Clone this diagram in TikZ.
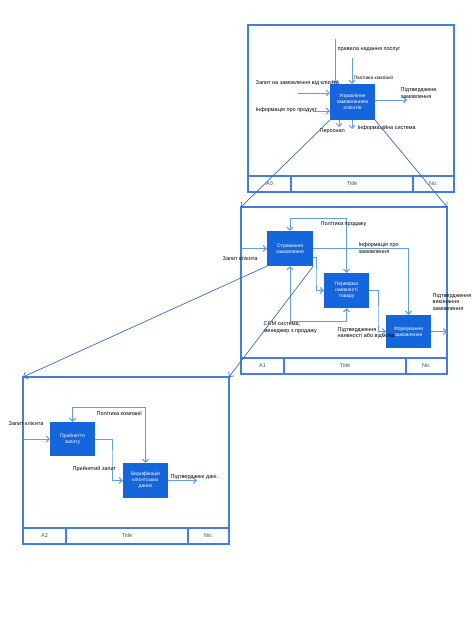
\documentclass[tikz,border=0pt]{standalone}
\usepackage{fontspec}
\setmainfont{Liberation Sans}
\usetikzlibrary{arrows.meta,calc}
\definecolor{boxblue}{RGB}{21,101,220}
\definecolor{lineblue}{RGB}{100,158,226}
\definecolor{frameblue}{RGB}{66,126,222}

\begin{document}
\begin{tikzpicture}[x=1pt,y=-1pt,
  blk/.style={fill=boxblue, text=white, align=center, font=\fontsize{5}{6}\selectfont, inner sep=0pt},
  lbl/.style={anchor=west, align=left, inner sep=0.5pt, font=\fontsize{5.5}{6.8}\selectfont},
  arr/.style={draw=lineblue, line width=1pt, -{Straight Barb[length=3pt,width=6pt]}},
  arrs/.style={arr, {Straight Barb[length=3pt,width=6pt]}-{Straight Barb[length=3pt,width=6pt]}},
  frm/.style={draw=frameblue, line width=1.1pt, minimum width=206pt, minimum height=167pt, anchor=north west, inner sep=0pt, outer sep=0pt},
  zoomln/.style={draw=frameblue!85!black, line width=0.7pt, -{Straight Barb[length=3.5pt,width=7pt]}},
  ftxt/.style={font=\fontsize{5.5}{6}\selectfont, text=black!70}]
  \useasboundingbox (0,0) rectangle (474,632);

  % frames with footer
  \foreach \n/\x/\y/\lab in {f0/248/25/A0, f1/241/207/A1, f2/23/377/A2} {
    \node[frm] (\n) at (\x,\y) {};
    \draw[draw=frameblue, line width=1.1pt] (\x,\y+151) -- (\x+206,\y+151)
      (\x+43,\y+151) -- (\x+43,\y+167) (\x+165,\y+151) -- (\x+165,\y+167);
    \node[ftxt] at (\x+21.5,\y+159) {\lab};
    \node[ftxt] at (\x+104,\y+159) {Title};
    \node[ftxt] at (\x+185.5,\y+159) {No.};
  }

  % A0
  \node[blk, minimum width=45pt, minimum height=36pt] (a0) at (352.5,102) {Управління\\замовленням\\клієнтів};
  \coordinate (p1) at (335,39);
  \coordinate (p2) at (352,58);
  \coordinate (p3) at (298,93);
  \coordinate (p4) at (313,111);
  \coordinate (p5) at (407,100);
  \coordinate (p6) at (339,127);
  \coordinate (p7) at (352,129);
  \draw[arr] (p1) -- (p1 |- a0.north);
  \draw[arr] (p2) -- (p2 |- a0.north);
  \draw[arr] (p3) -- (p3 -| a0.west);
  \draw[arr] (p4) -- (p4 -| a0.west);
  \draw[arr] (p5 -| a0.east) -- (p5);
  \draw[arr] (p6 |- a0.south) -- (p6);
  \draw[arr] (p7 |- a0.south) -- (p7);
  \node[lbl] (t1) at (337,50) {правила надання послуг};
  \node[lbl, font=\fontsize{4.8}{6}\selectfont] (t2) at (353,78) {Політика компанії};
  \node[lbl] (t3) at (255,83) {Запит на замовлення від клієнта};
  \node[lbl] (t4) at (255,110) {Інформація про продукт};
  \node[lbl] (t5) at (400,93) {Підтверджене\\замовлення};
  \node[lbl] (t6) at (319,131) {Персонал};
  \node[lbl] (t7) at (357,128) {Інформаційна система};

  % A1
  \node[blk, minimum width=46pt, minimum height=35pt] (b1) at (290,248.5) {Отримання\\замовлення};
  \node[blk, minimum width=45pt, minimum height=35pt] (b2) at (346.5,290.5) {Перевірка\\наявності\\товару};
  \node[blk, minimum width=45pt, minimum height=33pt] (b3) at (408.5,331.5) {Формування\\замовлення};
  \coordinate (q1) at (0,218);
  \coordinate (q2) at (316,0);
  \coordinate (q3) at (378,0);
  \coordinate (q4) at (0,321);
  \draw[arr] (f1.west |- b1.west) -- (b1.west);
  \draw[arrs] (b1.north) -- (b1.north |- q1) -| (b2.north);
  \draw[arr] (b1.east) -| (b3.north);
  \draw[arr] ($(b1.east)+(0,9)$) -| ($(q2)+(0,280)$) |- (b2.west);
  \draw[arr] (b2.east) -| ($(q3)+(0,320)$) |- (b3.west);
  \draw[arr] (b3.east) -- (b3.east -| f1.east);
  \draw[arrs] (b1.south) -- (b1.south |- q4) -| (b2.south);
  \node[lbl] (u1) at (320,224) {Політика продажу};
  \node[lbl] (u2) at (358,248) {Інформація про\\замовлення};
  \node[lbl] (u3) at (222,259) {Запит клієнта};
  \node[lbl] (u4) at (263,328) {CRM система,\\менеджер з продажу};
  \node[lbl] (u5) at (337,333) {Підтвердження\\наявності або відмова};
  \node[lbl] (u6) at (432,302) {Підтвердження\\виконання\\замовлення};

  % A2
  \node[blk, minimum width=45pt, minimum height=34pt] (c1) at (72.5,439) {Прийняття\\запиту};
  \node[blk, minimum width=45pt, minimum height=35pt] (c2) at (145.5,480.5) {Верифікація\\клієнтських\\даних};
  \coordinate (r1) at (0,407);
  \coordinate (r2) at (112,0);
  \coordinate (r3) at (197,480.5);
  \draw[arr] (f2.west |- c1.west) -- (c1.west);
  \draw[arrs] (c1.north) -- (c1.north |- r1) -| (c2.north);
  \draw[arr] (c1.east) -| ($(r2)+(0,460)$) |- (c2.west);
  \draw[arr] (c2.east) -- (r3);
  \node[lbl] (v1) at (8,424) {Запит клієнта};
  \node[lbl] (v2) at (96,414) {Політика компанії};
  \node[lbl] (v3) at (72,469) {Прийнятий запит};
  \node[lbl] (v4) at (170,477) {Підтверджені дані.};

  % zoom lines
  \draw[zoomln] (a0.south west) -- (f1.north west);
  \draw[zoomln] (a0.south east) -- (f1.north east);
  \draw[zoomln] (b1.south west) -- (f2.north west);
  \draw[zoomln] (b1.south east) -- (f2.north east);
\end{tikzpicture}
\end{document}
